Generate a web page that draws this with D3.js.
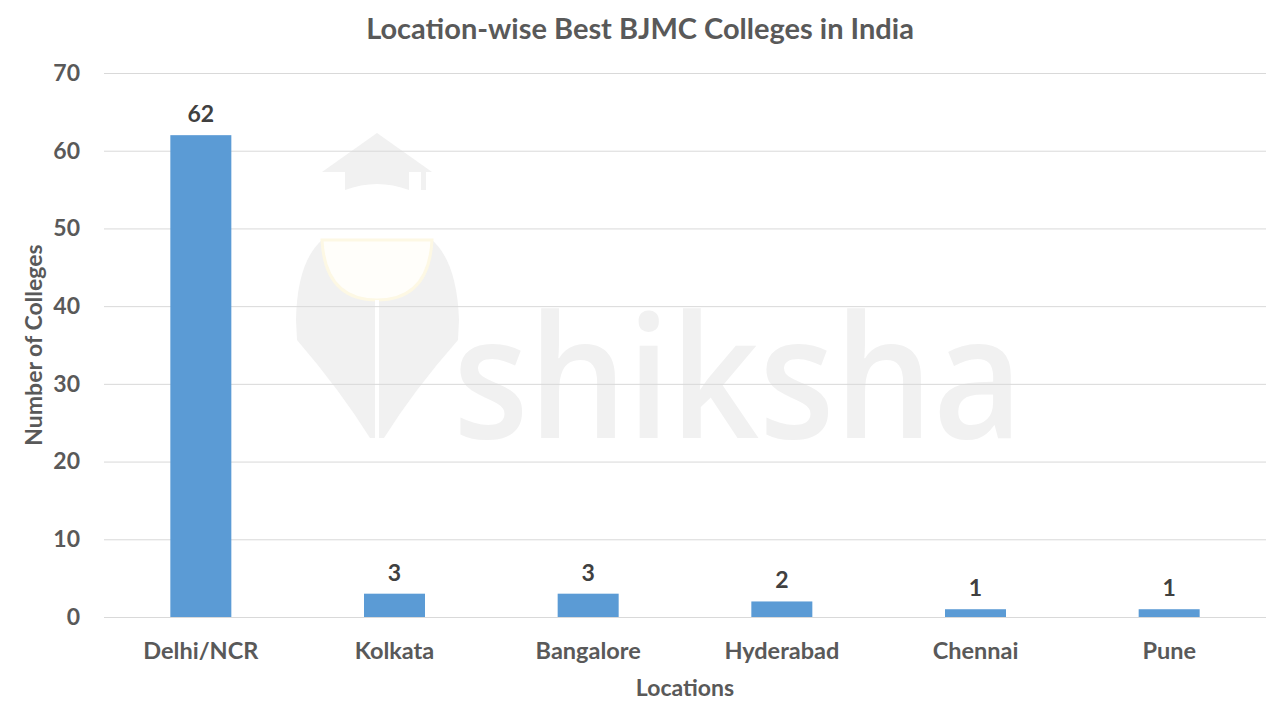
<!DOCTYPE html>
<html><head><meta charset="utf-8">
<script src="https://cdn.jsdelivr.net/npm/d3@7"></script>
<style>body{margin:0;background:#fff}svg{display:block}</style>
</head><body>
<svg id="c" width="1280" height="720"></svg>
<script>
const categories = ["Delhi/NCR","Kolkata","Bangalore","Hyderabad","Chennai","Pune"];
const values = [62,3,3,2,1,1];
const yTicks = [0,10,20,30,40,50,60,70];
const title = "Location-wise Best BJMC Colleges in India";
const xTitle = "Locations";
const yTitle = "Number of Colleges";

const svg = d3.select("#c");
const FONT = "Lato, 'Open Sans', sans-serif";
const L = 104, R = 1266, T = 73, B = 617;

// watermark
const wm = svg.append("g").attr("fill","#f1f1f1");
wm.append("path").attr("d","M377,133 L322,172 L345,172 L345,190 Q377,178 409,190 L409,172 L421,172 L421,190 L426,190 L426,172 L432,172 Z");
wm.append("path").attr("d","M322,240 Q297,262 296,320 L297,340 Q340,390 370,438 L384,438 Q414,390 458,340 L459,320 Q457,262 432,240 Z");
svg.append("path").attr("d","M322,240 Q325,300 377,300 Q429,300 432,240 Z").attr("fill","#fffefa").attr("stroke","#fdf8e4").attr("stroke-width",3);
svg.append("rect").attr("x",375).attr("y",300).attr("width",4).attr("height",140).attr("fill","#fff");
wm.append("text").attr("x",738).attr("y",438).attr("text-anchor","middle")
  .attr("font-family","'Open Sans', sans-serif").attr("font-weight",600).attr("font-size",170)
  .attr("textLength",570).attr("lengthAdjust","spacingAndGlyphs").text("shiksha");

const x = d3.scaleBand().domain(categories).range([L,R]).paddingInner(0.685).paddingOuter(0.3425);
const y = d3.scaleLinear().domain([0,70]).range([B,T]);

// gridlines
svg.append("g").selectAll("line").data(yTicks).join("line")
  .attr("x1",L).attr("x2",R).attr("y1",d=>y(d)+0.5).attr("y2",d=>y(d)+0.5)
  .attr("stroke","#d9d9d9").attr("stroke-width",1);

// y axis labels
const yAxis = svg.append("g").attr("transform",`translate(${L-24},0)`)
  .call(d3.axisLeft(y).tickValues(yTicks).tickSize(0).tickPadding(0));
yAxis.select(".domain").remove();
yAxis.selectAll("text").attr("font-family",FONT).attr("font-weight",700).attr("font-size",23).attr("fill","#595959");

// bars
svg.append("g").selectAll("rect").data(values).join("rect")
  .attr("x",(d,i)=>x(categories[i])).attr("width",x.bandwidth())
  .attr("y",d=>y(d)).attr("height",d=>B-y(d)).attr("fill","#5b9bd5");

// data labels
svg.append("g").selectAll("text").data(values).join("text")
  .attr("x",(d,i)=>x(categories[i])+x.bandwidth()/2).attr("y",d=>y(d)-13)
  .attr("text-anchor","middle").attr("font-family",FONT).attr("font-weight",700)
  .attr("font-size",23).attr("fill","#404040").text(d=>d);

// x axis
const xAxis = svg.append("g").attr("transform",`translate(0,${B})`)
  .call(d3.axisBottom(x).tickSize(0).tickPadding(25));
xAxis.select(".domain").remove();
xAxis.selectAll("text").attr("font-family",FONT).attr("font-weight",700).attr("font-size",23.5).attr("fill","#595959");

svg.append("text").attr("x",640).attr("y",39).attr("text-anchor","middle")
  .attr("font-family",FONT).attr("font-weight",700).attr("font-size",29).attr("fill","#595959").text(title);
svg.append("text").attr("x",685).attr("y",696).attr("text-anchor","middle")
  .attr("font-family",FONT).attr("font-weight",700).attr("font-size",23).attr("fill","#595959").text(xTitle);
svg.append("text").attr("transform","translate(42,345) rotate(-90)").attr("text-anchor","middle")
  .attr("font-family",FONT).attr("font-weight",700).attr("font-size",23).attr("fill","#595959").text(yTitle);
</script>
</body></html>
